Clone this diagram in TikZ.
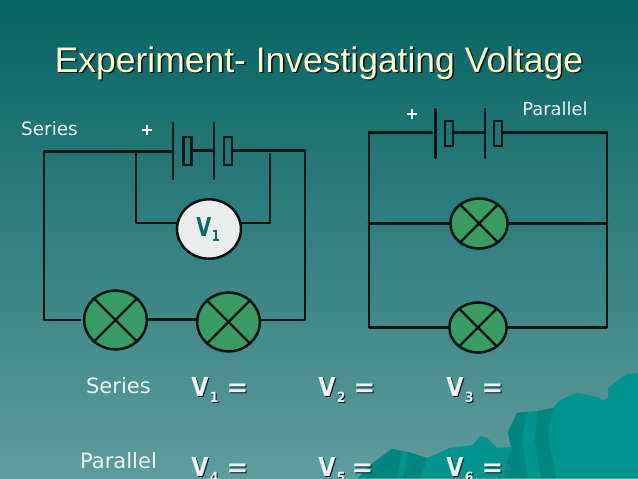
\documentclass[tikz,border=0pt]{standalone}
\usepackage{fontspec}
\usepackage{graphicx}
\setmainfont{DejaVu Sans}
\newfontfamily\titlefont{Liberation Sans}
\usetikzlibrary{shapes.geometric}
\definecolor{bgtop}{RGB}{6,100,100}
\definecolor{bgbot}{RGB}{96,156,156}
\definecolor{mtn}{RGB}{2,148,142}
\definecolor{mtndark}{RGB}{0,134,128}
\definecolor{lampgreen}{RGB}{56,156,100}
\definecolor{wire}{RGB}{8,20,20}
\definecolor{meter}{RGB}{236,238,238}
\definecolor{vtext}{RGB}{10,106,106}
\definecolor{titlecol}{RGB}{255,255,204}
\definecolor{labelcol}{RGB}{232,244,244}
\tikzset{
  x=0.75pt,y=-0.75pt,
  conn/.style={draw=wire,line width=1.9pt,line cap=round,line join=round},
  cross/.style={draw=wire,line width=1.8pt,line cap=round},
  plate/.style={draw=wire,line width=1.8pt,line cap=round},
  cell/.style={draw=wire,line width=1.8pt,rectangle,inner sep=0pt,outer sep=0pt},
  lamp/.style={ellipse,draw=wire,line width=1.9pt,fill=lampgreen,inner sep=0pt,outer sep=0pt},
  lab/.style={text=labelcol,font=\fontsize{13.8}{16}\selectfont,inner sep=0pt},
  labb/.style={text=labelcol,font=\fontsize{15.8}{18}\selectfont,inner sep=0pt},
  plus/.style={text=white,font=\bfseries\fontsize{12}{12}\selectfont,inner sep=0pt},
  eqn/.style={text=labelcol,inner sep=0pt,anchor=base west},
  eqnsh/.style={text=black!80!bgtop,inner sep=0pt,anchor=base west},
  ttl/.style={font=\titlefont\fontsize{26.6}{30}\selectfont,inner sep=0pt}
}
\newcommand{\vsub}[2]{{\bfseries\fontsize{19.5}{22}\selectfont\scalebox{0.86}[1]{V}\kern0.9pt\raisebox{-4.6pt}{\scalebox{0.9}[1]{\fontsize{10.5}{11}\selectfont #1}}}\hspace{#2}{\bfseries\fontsize{19.5}{20}\selectfont =}}
\newcommand{\eqnode}[5]{% name, x, y, digit, gap
  \node[eqnsh] (#1s) at (#2+1.2,#3+1.5) {\vsub{#4}{#5}};
  \node[eqn] (#1) at (#2,#3) {\vsub{#4}{#5}};
}
\begin{document}
\begin{tikzpicture}
\useasboundingbox (0,0) rectangle (638,478);
\clip (0,0) rectangle (638,478);
\shade[top color=bgtop,bottom color=bgbot] (0,0) rectangle (638,478);
% mountains
\fill[mtn] (358,478) -- (373,463) -- (392,449) -- (408,452) -- (427,458) -- (450,448) -- (473,445) -- (480,436) -- (487,438) -- (497,448) -- (511,447)
  -- (508,432) -- (517,413) -- (537,411) -- (553,408) -- (560,400) -- (577,393) -- (598,397) -- (603,401) -- (608,398) -- (608,388) -- (627,374) -- (638,373) -- (638,478) -- cycle;
\fill[mtndark] (373,463) -- (392,449) -- (402,451) -- (397,478) -- (358,478) -- cycle;
\fill[mtndark] (408,452) -- (427,458) -- (425,465) -- (420,478) -- (403,478) -- cycle;
\fill[mtndark] (511,447) -- (508,432) -- (517,413) -- (527,412) -- (522,440) -- (528,478) -- (503,478) -- cycle;
\fill[mtndark] (537,411) -- (553,408) -- (548,435) -- (556,478) -- (541,478) -- (535,440) -- cycle;
% title
\node[ttl,text=black!85!bgtop] (titleshadow) at (320.5,64.5) {Experiment- Investigating Voltage};
\node[ttl,text=titlecol] (title) at (319,63) {Experiment- Investigating Voltage};
% labels
\node[lab] (series) at (49.5,129) {Series};
\node[lab,font=\fontsize{13.4}{16}\selectfont] (parallel) at (555,109) {Parallel};
\node[plus] (plusa) at (147,130) {+};
\node[plus] (plusb) at (412,114) {+};
\node[labb] (seriesb) at (118.5,386) {Series};
\node[labb] (parallelb) at (118.5,461) {Parallel};
% V equations
\eqnode{va}{191}{396}{1}{6pt}
\eqnode{vb}{318}{396}{2}{6pt}
\eqnode{vc}{446}{396}{3}{6pt}
\eqnode{vd}{191}{476}{4}{6pt}
\eqnode{ve}{318}{476}{5}{4.5pt}
\eqnode{vf}{446}{476}{6}{6pt}
% series circuit coordinates
\coordinate (stl) at (44,151.5);
\coordinate (str) at (305,150.5);
\coordinate (sbl) at (44,320);
\coordinate (sbr) at (305,320);
\coordinate (spa) at (171,151.5);
\coordinate (spat) at (173,123);
\coordinate (spab) at (173,179);
\coordinate (spbt) at (214,123);
\coordinate (spbb) at (214,179);
\coordinate (spb) at (212,150.5);
\coordinate (sva) at (136,153);
\coordinate (svb) at (136,223);
\coordinate (svc) at (270,223);
\coordinate (svd) at (270,154);
% series shapes
\node[cell,minimum width=6.2pt,minimum height=21pt] (scella) at (187.5,151) {};
\node[cell,minimum width=6.2pt,minimum height=21pt] (scellb) at (228,151) {};
\node[ellipse,draw=wire,line width=1.9pt,fill=meter,minimum width=48pt,minimum height=44.5pt,inner sep=0pt,outer sep=0pt] (meter) at (209,229) {};
\node[text=vtext,inner sep=0pt,anchor=base west] (vlabel) at (196,236) {\bfseries\fontsize{19.5}{22}\selectfont\scalebox{0.74}[1]{V}\kern0.5pt\raisebox{-4.4pt}{\scalebox{0.75}[1]{\fontsize{11.5}{13}\selectfont 1}}};
\node[lamp,minimum width=47pt,minimum height=44pt] (la) at (115.5,320) {};
\node[lamp,minimum width=47pt,minimum height=44pt] (lb) at (228.5,322) {};
\coordinate (lawl) at (80,320);
\coordinate (lawr) at (148,319.5);
\coordinate (lbwl) at (197,319.5);
\coordinate (lbwr) at (262,320);
\draw[conn] (spa) -- (stl) -- (sbl) -- (lawl);
\draw[conn] (lawr) -- (lbwl);
\draw[conn] (lbwr) -- (sbr) -- (str) -- (scellb.east |- str);
\draw[conn] (scella.east |- spb) -- (spb);
\draw[conn] (sva) -- (svb) -- (meter.west |- svb);
\draw[conn] (meter.east |- svc) -- (svc) -- (svd);
\draw[plate] (spat) -- (spab);
\draw[plate] (spbt) -- (spbb);
\draw[cross] (la.45) -- (la.225);
\draw[cross] (la.135) -- (la.315);
\draw[cross] (lb.45) -- (lb.225);
\draw[cross] (lb.135) -- (lb.315);
% parallel circuit coordinates
\coordinate (ptl) at (369,132.5);
\coordinate (ptr) at (607,132.5);
\coordinate (pml) at (369,223.5);
\coordinate (pmr) at (607,223.5);
\coordinate (pbl) at (369,327.5);
\coordinate (pbr) at (607,327.5);
\coordinate (ppa) at (432,132.5);
\coordinate (ppat) at (435.5,109);
\coordinate (ppab) at (435.5,158);
\coordinate (ppbt) at (485,109);
\coordinate (ppbb) at (485,158);
\coordinate (ppb) at (484,132.5);
\node[cell,minimum width=6pt,minimum height=18.5pt] (pcella) at (449,133.5) {};
\node[cell,minimum width=6pt,minimum height=18.5pt] (pcellb) at (498,133.5) {};
\node[lamp,minimum width=43pt,minimum height=37.5pt] (lc) at (479,223.5) {};
\node[lamp,minimum width=43pt,minimum height=37.5pt] (ld) at (478,327.5) {};
\draw[conn] (ppa) -- (ptl) -- (pbl) -- (ld);
\draw[conn] (ld) -- (pbr) -- (ptr) -- (pcellb.east |- ptr);
\draw[conn] (pcella.east |- ppb) -- (ppb);
\draw[conn] (pml) -- (lc);
\draw[conn] (lc) -- (pmr);
\draw[plate] (ppat) -- (ppab);
\draw[plate] (ppbt) -- (ppbb);
\draw[cross] (lc.45) -- (lc.225);
\draw[cross] (lc.135) -- (lc.315);
\draw[cross] (ld.45) -- (ld.225);
\draw[cross] (ld.135) -- (ld.315);
\end{tikzpicture}
\end{document}
